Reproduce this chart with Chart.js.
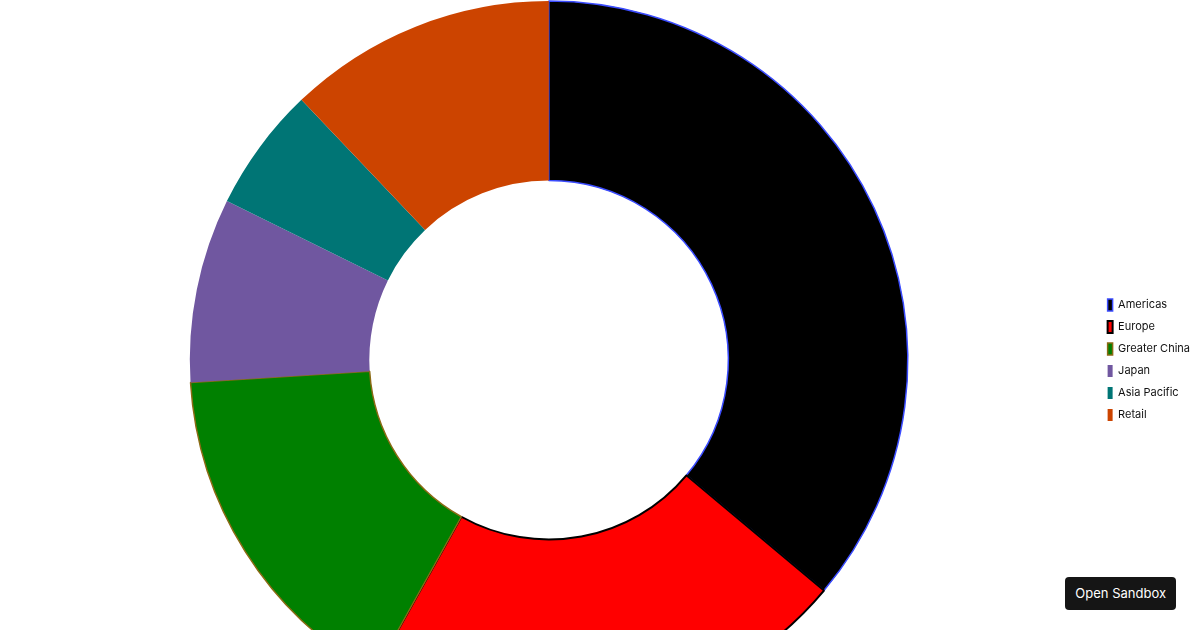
<!DOCTYPE html>
<html>
<head>
<meta charset="utf-8">
<script src="https://cdn.jsdelivr.net/npm/chart.js@4/dist/chart.umd.min.js"></script>
<style>
  html, body { margin: 0; padding: 0; overflow: hidden; background: #fff; }
  #wrap { position: relative; width: 1200px; height: 720px; }
  #btn {
    position: fixed; right: 24px; bottom: 20px;
    background: #151515; color: #fff; border-radius: 4px;
    font: 13px Inter, "Noto Sans", sans-serif; padding: 8px 10px 9px;
  }
</style>
</head>
<body>
<div id="wrap"><canvas id="grafico"></canvas></div>
<div id="btn">Open Sandbox</div>
<script>
// regiões e participação (%)
const regioes = ["Americas", "Europe", "Greater China", "Japan", "Asia Pacific", "Retail"];
const valores = [36.1, 22.0, 15.9, 8.3, 5.6, 12.1];
const cores = ["#000000", "#ff0000", "#008000", "#7057a0", "#007575", "#cc4400"];
const bordas = ["#3b4cff", "#000000", "#8b6a14", "#7057a0", "#007575", "#cc4400"];
const larguras = [1.5, 2, 1.5, 0, 0, 0];

const ctx = document.getElementById("grafico").getContext("2d");
new Chart(ctx, {
    type: "doughnut",
    data: {
        labels: regioes,
        datasets: [{
            data: valores,
            backgroundColor: cores,
            borderColor: bordas,
            borderWidth: larguras
        }]
    },
    options: {
        responsive: true,
        maintainAspectRatio: false,
        animation: false,
        cutout: "50%",
        layout: { padding: 0 },
        plugins: {
            tooltip: { enabled: false },
            legend: {
                position: "right",
                labels: {
                    boxWidth: 5,
                    boxHeight: 12,
                    padding: 10,
                    color: "#111",
                    font: { family: "Inter", size: 11 }
                }
            }
        }
    }
});
</script>
</body>
</html>
